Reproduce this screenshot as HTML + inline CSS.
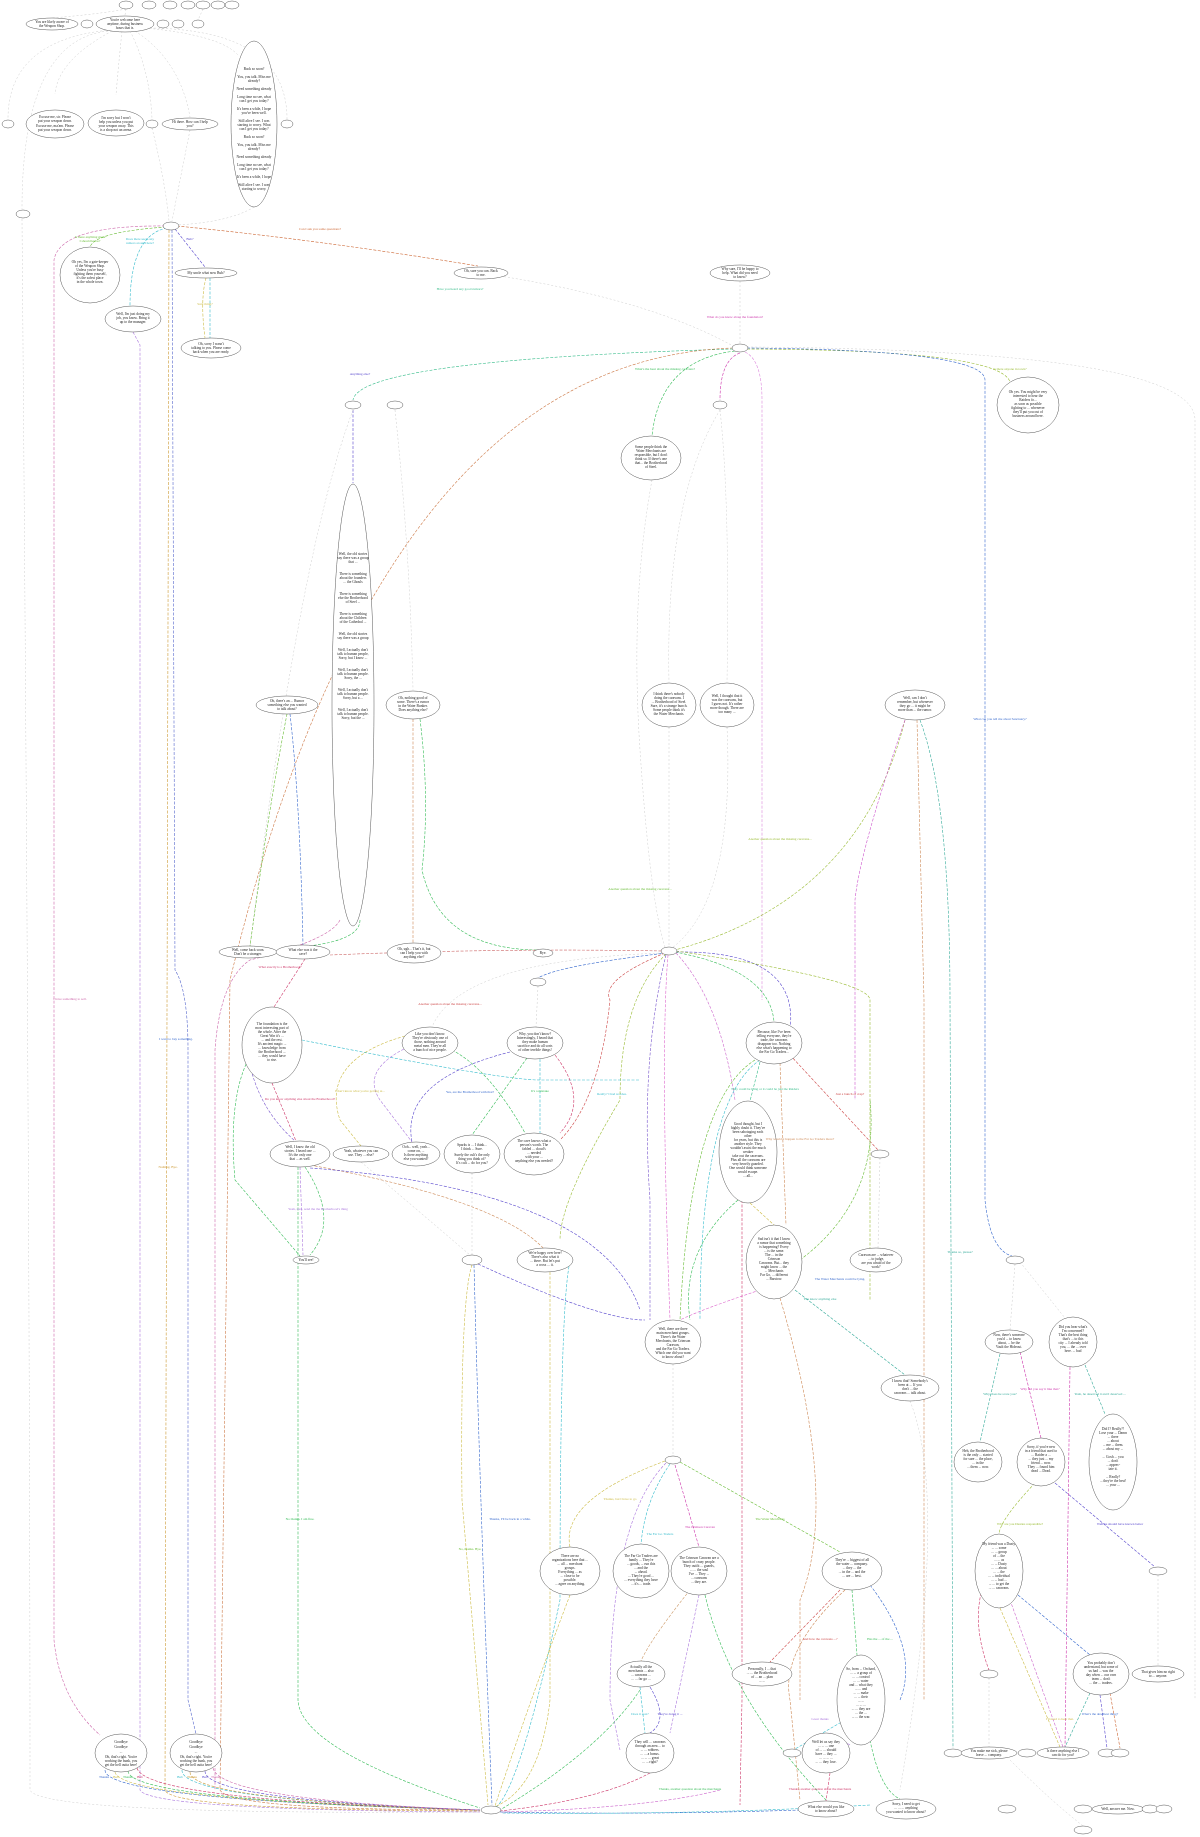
<!DOCTYPE html>
<html><head><meta charset="utf-8"><style>
html,body{margin:0;padding:0;background:#fff;}
svg{display:block}
text{font-family:"Liberation Serif",serif;font-size:3.6px;fill:#222;text-anchor:middle}
.e{fill:#fff;stroke:#555;stroke-width:0.5}
.l{fill:none;stroke-width:0.6;stroke-dasharray:3,1.5}
.g{fill:none;stroke:#ccc;stroke-width:0.5;stroke-dasharray:2,2}
.t text{font-size:3.4px}
</style></head><body>
<svg width="1200" height="1837" viewBox="0 0 1200 1837" xmlns="http://www.w3.org/2000/svg">
<g id="edges">
<!-- top -->
<path class="g" d="M126,9 Q100,14 52,18"/>
<path class="g" d="M126,9 L125,15"/>
<path class="g" d="M203,9 L198,20"/>
<path class="g" d="M110,30 Q8,40 8,119"/>
<path class="g" d="M112,31 Q58,60 55,94"/>
<path class="g" d="M122,31 Q118,70 116,95"/>
<path class="g" d="M130,31 Q150,70 152,119"/>
<path class="g" d="M135,31 Q180,60 190,117"/>
<path class="g" d="M145,28 Q220,35 238,55"/>
<path class="g" d="M150,28 Q287,30 287,119"/>
<path class="g" d="M108,31 Q22,40 22,209"/>
<path class="g" d="M254,207 Q230,222 177,225"/>
<path class="g" d="M190,130 Q180,180 172,221"/>
<path class="g" d="M152,128 Q165,180 169,221"/>
<path class="g" d="M22,219 Q30,1200 30,1790 Q40,1815 480,1812"/>
<!-- from H1 -->
<path class="l" stroke="#c6a" d="M165,226 Q60,225 54,260 L54,1640 Q60,1700 100,1735"/>
<path class="l" stroke="#6b3" d="M166,227 Q95,232 90,247"/>
<path class="l" stroke="#3bc" d="M167,228 Q130,235 130,306"/>
<path class="l" stroke="#a7d" d="M133,332 L140,345 L140,1790 Q150,1810 480,1812"/>
<path class="l" stroke="#c93" d="M169,230 L165,1790 Q170,1810 480,1811"/>
<path class="l" stroke="#56c" d="M172,230 L175,970 Q188,990 188,1050 L188,1700 L196,1734"/>
<path class="l" stroke="#54c" d="M175,229 L205,267"/>
<path class="l" stroke="#c63" d="M177,226 Q320,240 478,266"/>
<path class="l" stroke="#cb4" d="M206,278 Q200,300 205,338"/>
<path class="l" stroke="#3bc" d="M210,278 L210,338"/>
<path class="g" d="M500,276 Q650,300 733,346"/>
<path class="g" d="M740,281 L740,343"/>
<!-- H2 -->
<path class="l" stroke="#3b8" d="M733,349 Q360,360 353,400"/>
<path class="l" stroke="#c74" d="M733,348 Q380,360 230,980 L220,1790 Q230,1810 480,1810"/>
<path class="l" stroke="#3b5" d="M735,351 Q660,360 652,436"/>
<path class="l" stroke="#c3a" d="M740,353 Q720,360 720,400"/>
<path class="l" stroke="#d8d" d="M745,352 Q762,360 762,400 L762,1000"/>
<path class="l" stroke="#9b3" d="M747,349 Q1000,350 1010,382"/>
<path class="l" stroke="#36c" d="M747,348 Q985,350 985,380 L985,1200 Q990,1250 1012,1256"/>
<path class="g" d="M747,347 Q1195,350 1195,420 L1195,1700"/>
<path class="g" d="M720,410 Q665,500 669,682"/>
<path class="g" d="M720,410 Q730,500 727,682"/>
<path class="g" d="M652,480 Q630,600 640,750 Q650,900 665,947"/>
<path class="g" d="M669,727 L669,946"/>
<path class="g" d="M727,727 Q735,900 672,948"/>
<path class="l" stroke="#9b3" d="M905,720 Q860,900 675,950"/>
<path class="l" stroke="#c5c" d="M905,720 Q860,850 855,900 L855,1100"/>
<path class="l" stroke="#c85" d="M917,720 L924,1000 L924,1700"/>
<path class="l" stroke="#3a9" d="M920,720 Q950,800 950,1000 L953,1748"/>
<!-- left mid -->
<path class="l" stroke="#54c" d="M353,410 L353,483"/>
<path class="g" d="M353,410 Q300,550 250,946"/>
<path class="g" d="M395,410 Q410,550 413,690"/>
<path class="l" stroke="#6b3" d="M287,714 Q270,800 250,946"/>
<path class="l" stroke="#36c" d="M290,714 Q300,800 303,945"/>
<path class="l" stroke="#3b5" d="M360,920 Q360,940 308,946"/>
<path class="l" stroke="#c85" d="M413,719 L413,943"/>
<path class="l" stroke="#3b5" d="M420,719 Q430,800 422,870 Q440,950 540,950"/>
<path class="l" stroke="#c6a" d="M340,920 Q330,940 250,960 Q220,980 215,1050 L215,1790"/>
<path class="l" stroke="#c36" d="M305,959 L274,1007"/>
<path class="l" stroke="#c66" d="M330,955 Q500,948 664,951"/>
<path class="l" stroke="#36c" d="M675,952 Q560,965 538,978"/>
<path class="g" d="M663,953 Q460,960 432,1027"/>
<path class="g" d="M538,986 L536,1027"/>
<!-- H3 fans -->
<path class="l" stroke="#c44" d="M665,953 Q600,980 610,1000 Q600,1100 560,1140"/>
<path class="l" stroke="#d6c" d="M668,955 Q660,1050 670,1320"/>
<path class="l" stroke="#75c" d="M666,955 Q640,1060 650,1200 L650,1320"/>
<path class="l" stroke="#9b3" d="M666,954 Q620,1000 620,1100 Q560,1200 560,1240"/>
<path class="l" stroke="#3b5" d="M675,952 Q770,970 774,1022"/>
<path class="l" stroke="#54c" d="M676,952 Q800,950 790,1030"/>
<path class="l" stroke="#9b3" d="M676,951 Q870,980 870,1000 L870,1300"/>
<path class="l" stroke="#c6c" d="M676,953 Q720,1000 735,1100"/>
<!-- foundation etc -->
<path class="l" stroke="#75c" d="M250,1065 Q260,1110 295,1141"/>
<path class="l" stroke="#c36" d="M272,1083 L296,1141"/>
<path class="l" stroke="#3b5" d="M248,1060 Q228,1100 235,1180 L300,1256"/>
<path class="l" stroke="#3bc" d="M302,1040 Q500,1080 540,1080 L640,1080"/>
<path class="l" stroke="#cb4" d="M405,1036 Q320,1060 340,1120 L361,1146"/>
<path class="l" stroke="#a7d" d="M408,1047 Q360,1070 380,1100 L412,1142"/>
<path class="l" stroke="#3b5" d="M452,1050 Q490,1070 525,1133"/>
<path class="l" stroke="#54c" d="M510,1052 Q400,1080 412,1142"/>
<path class="l" stroke="#3b5" d="M527,1058 L472,1135"/>
<path class="l" stroke="#3bc" d="M540,1059 L540,1133"/>
<path class="l" stroke="#c36" d="M555,1055 Q590,1100 560,1133"/>
<path class="l" stroke="#a7d" d="M300,1167 L303,1255"/>
<path class="l" stroke="#3b5" d="M305,1167 Q340,1220 310,1255"/>
<path class="l" stroke="#3b5" d="M298,1167 L298,1700 Q300,1750 480,1808"/>
<path class="l" stroke="#c85" d="M310,1165 Q500,1200 545,1250"/>
<path class="l" stroke="#54c" d="M310,1168 Q600,1190 640,1310"/>
<path class="g" d="M361,1162 L470,1255"/>
<path class="g" d="M472,1173 L472,1255"/>
<path class="l" stroke="#cb4" d="M472,1265 Q460,1300 462,1500 L488,1805"/>
<path class="l" stroke="#36c" d="M474,1265 Q480,1500 492,1805"/>
<path class="l" stroke="#54c" d="M478,1264 Q600,1320 645,1320"/>
<path class="l" stroke="#3bc" d="M570,1262 Q560,1300 560,1600 Q520,1790 495,1808"/>
<path class="l" stroke="#cb4" d="M550,1272 L550,1700 Q540,1790 492,1808"/>
<!-- right block -->
<path class="l" stroke="#3b8" d="M760,1062 L750,1101"/>
<path class="l" stroke="#c85" d="M780,1063 L786,1225"/>
<path class="l" stroke="#c44" d="M790,1055 L878,1150"/>
<path class="l" stroke="#3bc" d="M760,1060 Q700,1100 700,1320"/>
<path class="l" stroke="#6b3" d="M755,1060 Q690,1100 680,1320"/>
<path class="l" stroke="#cb4" d="M750,1203 L774,1225"/>
<path class="l" stroke="#3b5" d="M738,1200 Q680,1250 690,1320"/>
<path class="l" stroke="#c36" d="M742,1200 L742,1700 Q740,1800 740,1805"/>
<path class="l" stroke="#d6c" d="M760,1290 Q700,1310 680,1320"/>
<path class="l" stroke="#3a9" d="M795,1290 L905,1375"/>
<path class="l" stroke="#c85" d="M780,1298 Q840,1500 800,1600 L800,1700"/>
<path class="l" stroke="#6b3" d="M800,1260 Q880,1200 870,1100"/>
<path class="g" d="M880,1158 L878,1248"/>
<path class="g" d="M910,1401 Q950,1500 900,1790"/>
<path class="g" d="M673,1364 L673,1455"/>
<path class="g" d="M1015,1264 L1010,1330"/>
<path class="g" d="M1020,1262 L1065,1318"/>
<path class="l" stroke="#3a9" d="M1000,1354 L980,1442"/>
<path class="l" stroke="#c3a" d="M1020,1352 L1041,1438"/>
<path class="l" stroke="#c3a" d="M1070,1367 L1065,1747"/>
<path class="l" stroke="#3a9" d="M1085,1365 L1105,1414"/>
<path class="l" stroke="#9b3" d="M1035,1483 Q1000,1520 999,1534"/>
<path class="l" stroke="#54c" d="M1055,1483 L1155,1567"/>
<path class="g" d="M1158,1575 L1158,1666"/>
<path class="l" stroke="#c36" d="M985,1580 Q970,1620 989,1670"/>
<path class="l" stroke="#cb4" d="M1000,1608 L1060,1747"/>
<path class="l" stroke="#c6c" d="M1010,1600 L1063,1747"/>
<path class="l" stroke="#36c" d="M1018,1595 L1090,1655"/>
<path class="l" stroke="#3a9" d="M1090,1693 L1065,1747"/>
<path class="l" stroke="#54c" d="M1100,1695 L1107,1748"/>
<path class="l" stroke="#c63" d="M1110,1693 L1120,1748"/>
<path class="g" d="M989,1678 L989,1747"/>
<path class="g" d="M1010,1760 Q1050,1800 1083,1826"/>
<!-- H4 fans -->
<path class="l" stroke="#3bc" d="M670,1464 Q645,1500 641,1544"/>
<path class="l" stroke="#c3a" d="M675,1465 L699,1547"/>
<path class="l" stroke="#6b3" d="M680,1462 L840,1552"/>
<path class="l" stroke="#a7d" d="M666,1463 Q610,1520 610,1700 L620,1750"/>
<path class="l" stroke="#cb4" d="M665,1461 Q560,1500 570,1547"/>
<path class="l" stroke="#c96" d="M690,1590 Q650,1640 641,1661"/>
<path class="l" stroke="#a7d" d="M699,1595 L670,1733"/>
<path class="l" stroke="#3b5" d="M705,1595 Q730,1700 826,1800"/>
<path class="l" stroke="#c44" d="M840,1590 L770,1662"/>
<path class="l" stroke="#3b5" d="M852,1590 L857,1655"/>
<path class="l" stroke="#36c" d="M870,1585 Q920,1650 900,1700"/>
<path class="l" stroke="#c85" d="M845,1590 Q780,1650 790,1700 L800,1800"/>
<path class="l" stroke="#3bc" d="M640,1687 L645,1733"/>
<path class="l" stroke="#54c" d="M650,1687 Q670,1720 650,1733"/>
<path class="l" stroke="#a7d" d="M850,1745 L830,1733"/>
<path class="l" stroke="#3bc" d="M845,1720 L795,1749"/>
<path class="l" stroke="#c36" d="M830,1773 L826,1801"/>
<path class="l" stroke="#3b5" d="M870,1740 Q880,1790 900,1799"/>
<path class="l" stroke="#c36" d="M650,1773 Q600,1800 500,1811"/>
<path class="l" stroke="#36c" d="M800,1810 Q650,1815 500,1812"/>
<path class="l" stroke="#3b5" d="M640,1690 Q600,1750 500,1810"/>
<path class="l" stroke="#cb4" d="M570,1595 Q530,1700 495,1806"/>
<path class="l" stroke="#c6c" d="M720,1790 Q650,1808 502,1812"/>
<path class="l" stroke="#3bc" d="M870,1805 Q700,1815 502,1813"/>
<!-- goodbyes to bottom hub -->
<path class="l" stroke="#36c" d="M105,1770 Q105,1800 480,1810"/>
<path class="l" stroke="#cb4" d="M115,1772 Q120,1800 480,1810"/>
<path class="l" stroke="#3b5" d="M128,1771 Q130,1800 480,1810"/>
<path class="l" stroke="#c36" d="M137,1768 Q145,1800 480,1810"/>
<path class="l" stroke="#3bc" d="M182,1770 Q180,1800 480,1810"/>
<path class="l" stroke="#c93" d="M190,1772 Q190,1800 480,1810"/>
<path class="l" stroke="#54c" d="M205,1771 Q205,1800 480,1810"/>
<path class="l" stroke="#c6a" d="M213,1768 Q220,1800 480,1810"/>
</g>
<g id="nodes">
<ellipse class="e" cx="126" cy="5" rx="7" ry="4"/>
<ellipse class="e" cx="149" cy="5" rx="7" ry="4"/>
<ellipse class="e" cx="170" cy="5" rx="7" ry="4"/>
<ellipse class="e" cx="188" cy="5" rx="7" ry="4"/>
<ellipse class="e" cx="203" cy="5" rx="7" ry="4"/>
<ellipse class="e" cx="218" cy="5" rx="7" ry="4"/>
<ellipse class="e" cx="232" cy="5" rx="7" ry="4"/>
<ellipse class="e" cx="52" cy="24" rx="26" ry="6"/><text x="52" y="23">You are likely aware of</text><text x="52" y="27">the Weapon Shop.</text>
<ellipse class="e" cx="87" cy="24" rx="6" ry="4"/>
<ellipse class="e" cx="125" cy="24" rx="29" ry="8"/><text x="125" y="21">You're welcome here</text><text x="125" y="25">anytime, during business</text><text x="125" y="29">hours that is.</text>
<ellipse class="e" cx="163" cy="24" rx="6" ry="4"/>
<ellipse class="e" cx="178" cy="24" rx="6" ry="4"/>
<ellipse class="e" cx="198" cy="24" rx="6" ry="4"/>
<ellipse class="e" cx="8" cy="124" rx="6" ry="4"/>
<ellipse class="e" cx="55" cy="124" rx="29" ry="14"/><text x="55" y="118">Excuse me, sir. Please</text><text x="55" y="122">put your weapon down.</text><text x="55" y="127">Excuse me, ma'am. Please</text><text x="55" y="131">put your weapon down.</text>
<ellipse class="e" cx="116" cy="123" rx="28" ry="13"/><text x="116" y="119">I'm sorry but I won't</text><text x="116" y="123">help you unless you put</text><text x="116" y="127">your weapon away. This</text><text x="116" y="131">is a shop not an arena.</text>
<ellipse class="e" cx="152" cy="124" rx="6" ry="4"/>
<ellipse class="e" cx="190" cy="124" rx="28" ry="6"/><text x="190" y="123">Hi there. How can I help</text><text x="190" y="127">you?</text>
<ellipse class="e" cx="254" cy="124" rx="23" ry="83"/>
<text x="254" y="70">Back so soon?</text><text x="254" y="78">You, you talk. Miss me</text><text x="254" y="82">already?</text><text x="254" y="90">Need something already</text><text x="254" y="98">Long time no see, what</text><text x="254" y="102">can I get you today?</text><text x="254" y="110">It's been a while, I hope</text><text x="254" y="114">you've been well.</text><text x="254" y="122">Still alive I see. I was</text><text x="254" y="126">starting to worry. What</text><text x="254" y="130">can I get you today?</text><text x="254" y="138">Back so soon?</text><text x="254" y="146">You, you talk. Miss me</text><text x="254" y="150">already?</text><text x="254" y="158">Need something already</text><text x="254" y="166">Long time no see, what</text><text x="254" y="170">can I get you today?</text><text x="254" y="178">It's been a while, I hope</text><text x="254" y="186">Still alive I see. I was</text><text x="254" y="190">starting to worry.</text>
<ellipse class="e" cx="287" cy="124" rx="6" ry="4"/>
<ellipse class="e" cx="23" cy="214" rx="7" ry="4"/>
<ellipse class="e" cx="171" cy="226" rx="8" ry="4"/>
<ellipse class="e" cx="90" cy="275" rx="30" ry="28"/><text x="90" y="263">Oh yes, I'm a gate-keeper</text><text x="90" y="267">of the Weapon Shop.</text><text x="90" y="271">Unless you're busy</text><text x="90" y="275">fighting them yourself,</text><text x="90" y="279">it's the safest place</text><text x="90" y="283">in the whole town.</text>
<ellipse class="e" cx="133" cy="319" rx="28" ry="13"/><text x="133" y="315">Well, I'm just doing my</text><text x="133" y="319">job, you know. Bring it</text><text x="133" y="323">up to the manager.</text>
<ellipse class="e" cx="206" cy="273" rx="31" ry="5"/><text x="206" y="274">My uncle what now Bub?</text>
<ellipse class="e" cx="211" cy="348" rx="30" ry="10"/><text x="211" y="345">Oh, sorry I wasn't</text><text x="211" y="349">talking to you. Please come</text><text x="211" y="353">back when you are ready.</text>
<ellipse class="e" cx="481" cy="273" rx="27" ry="6"/><text x="481" y="272">Oh, sure you can. Back</text><text x="481" y="276">to me.</text>
<ellipse class="e" cx="740" cy="273" rx="30" ry="8"/><text x="740" y="270">Why sure, I'll be happy to</text><text x="740" y="274">help. What did you need</text><text x="740" y="278">to know?</text>
<ellipse class="e" cx="740" cy="348" rx="8" ry="4"/>
<ellipse class="e" cx="353" cy="405" rx="8" ry="4"/>
<ellipse class="e" cx="395" cy="405" rx="8" ry="4"/>
<ellipse class="e" cx="720" cy="405" rx="7" ry="4"/>
<ellipse class="e" cx="651" cy="458" rx="30" ry="22"/><text x="651" y="448">Some people think the</text><text x="651" y="452">Water Merchants are</text><text x="651" y="456">responsible, but I don't</text><text x="651" y="460">think so. If there's one</text><text x="651" y="464">that... the Brotherhood</text><text x="651" y="468">of Steel.</text>
<ellipse class="e" cx="1028" cy="405" rx="31" ry="28"/><text x="1028" y="393">Oh yes. You might be very</text><text x="1028" y="397">interested to hear the</text><text x="1028" y="401">Raiders fo...</text><text x="1028" y="405">as soon as possible</text><text x="1028" y="409">fighting to ... whenever</text><text x="1028" y="413">they'll put you out of</text><text x="1028" y="417">business around here.</text>
<ellipse class="e" cx="353" cy="705" rx="21" ry="221"/>
<text x="353" y="555">Well, the old stories</text><text x="353" y="559">say there was a group</text><text x="353" y="563">that ...</text><text x="353" y="575">There is something</text><text x="353" y="579">about the founders</text><text x="353" y="583">... the Ghouls</text><text x="353" y="595">There is something</text><text x="353" y="599">else the Brotherhood</text><text x="353" y="603">of Steel ...</text><text x="353" y="615">There is something</text><text x="353" y="619">about the Children</text><text x="353" y="623">of the Cathedral ...</text><text x="353" y="635">Well, the old stories</text><text x="353" y="639">say there was a group</text><text x="353" y="651">Well, I actually don't</text><text x="353" y="655">talk to human people,</text><text x="353" y="659">Sorry, but I know ...</text><text x="353" y="671">Well, I actually don't</text><text x="353" y="675">talk to human people.</text><text x="353" y="679">Sorry, the ...</text><text x="353" y="691">Well, I actually don't</text><text x="353" y="695">talk to human people.</text><text x="353" y="699">Sorry, but a ...</text><text x="353" y="711">Well, I actually don't</text><text x="353" y="715">talk to human people.</text><text x="353" y="719">Sorry, but the ...</text>
<ellipse class="e" cx="287" cy="705" rx="31" ry="9"/><text x="287" y="702">Oh, there's an ... Rumor</text><text x="287" y="706">something else you wanted</text><text x="287" y="710">to talk about?</text>
<ellipse class="e" cx="413" cy="705" rx="27" ry="14"/><text x="413" y="699">Oh, nothing good of</text><text x="413" y="703">some. There's a rumor</text><text x="413" y="707">in the Water Bunker.</text><text x="413" y="711">Does anything else?</text>
<ellipse class="e" cx="669" cy="705" rx="27" ry="22"/><text x="669" y="695">I think there's nobody</text><text x="669" y="699">doing the caravans. I</text><text x="669" y="703">... Brotherhood of Steel.</text><text x="669" y="707">Sure, it's a strange bunch.</text><text x="669" y="711">Some people think it's</text><text x="669" y="715">the Water Merchants.</text>
<ellipse class="e" cx="727" cy="705" rx="27" ry="22"/><text x="727" y="697">Well, I thought that it</text><text x="727" y="701">was the caravans, but</text><text x="727" y="705">I guess not. It's rather</text><text x="727" y="709">more though. There are</text><text x="727" y="713">too many ...</text>
<ellipse class="e" cx="915" cy="705" rx="30" ry="15"/><text x="915" y="699">Well, can I don't</text><text x="915" y="703">remember, but whenever</text><text x="915" y="707">they go ... it might be</text><text x="915" y="711">more than ... the rumor.</text>
<ellipse class="e" cx="248" cy="952" rx="29" ry="6"/><text x="248" y="951">Well, come back soon.</text><text x="248" y="955">Don't be a stranger.</text>
<ellipse class="e" cx="303" cy="952" rx="27" ry="7"/><text x="303" y="951">What else was it the</text><text x="303" y="955">cave?</text>
<ellipse class="e" cx="414" cy="953" rx="27" ry="10"/><text x="414" y="950">Oh, ugh... That's it, but</text><text x="414" y="954">can I help you with</text><text x="414" y="958">anything else?</text>
<ellipse class="e" cx="543" cy="953" rx="10" ry="4"/><text x="543" y="954">Bye.</text>
<ellipse class="e" cx="669" cy="951" rx="8" ry="4"/>
<ellipse class="e" cx="538" cy="982" rx="8" ry="4"/>
<ellipse class="e" cx="272" cy="1045" rx="30" ry="38"/><text x="272" y="1025">The foundation is the</text><text x="272" y="1029">most interesting part of</text><text x="272" y="1033">the whole. After the</text><text x="272" y="1037">Great War it's ...</text><text x="272" y="1041">... and the rest.</text><text x="272" y="1045">It's ancient magic ...</text><text x="272" y="1049">... knowledge from</text><text x="272" y="1053">the Brotherhood ...</text><text x="272" y="1057">... they would have</text><text x="272" y="1061">to rise.</text>
<ellipse class="e" cx="430" cy="1043" rx="28" ry="16"/><text x="430" y="1035">Like you don't know.</text><text x="430" y="1039">They're obviously one of</text><text x="430" y="1043">those, nothing around</text><text x="430" y="1047">metal men. They're all</text><text x="430" y="1051">a bunch of nice people.</text>
<ellipse class="e" cx="535" cy="1043" rx="28" ry="16"/><text x="535" y="1035">Why, you don't know?</text><text x="535" y="1039">Interestingly, I heard that</text><text x="535" y="1043">they make human</text><text x="535" y="1047">sacrifice and do all sorts</text><text x="535" y="1051">of other terrible things!</text>
<ellipse class="e" cx="774" cy="1043" rx="28" ry="21"/><text x="774" y="1033">Because, like I've been</text><text x="774" y="1037">telling everyone, they're</text><text x="774" y="1041">trade, the caravans</text><text x="774" y="1045">disappear too. Nothing</text><text x="774" y="1049">else what's happening to</text><text x="774" y="1053">the Far Go Traders...</text>
<ellipse class="e" cx="300" cy="1154" rx="30" ry="13"/><text x="300" y="1148">Well, I know the old</text><text x="300" y="1152">stories. I heard one ...</text><text x="300" y="1156">It's the only one</text><text x="300" y="1160">that ... as well.</text>
<ellipse class="e" cx="361" cy="1154" rx="28" ry="8"/><text x="361" y="1152">Yeah, whatever you can</text><text x="361" y="1156">use. They ... else?</text>
<ellipse class="e" cx="416" cy="1154" rx="24" ry="12"/><text x="416" y="1148">Ooh... well, yeah...</text><text x="416" y="1152">come on, ...</text><text x="416" y="1156">Is there anything</text><text x="416" y="1160">else you wanted?</text>
<ellipse class="e" cx="472" cy="1154" rx="28" ry="19"/><text x="472" y="1146">Sparks is ... I think...</text><text x="472" y="1150">I think ... Sure.</text><text x="472" y="1156">Surely the cult's the only</text><text x="472" y="1160">thing you think of?</text><text x="472" y="1164">It's cult ... do for you?</text>
<ellipse class="e" cx="534" cy="1154" rx="30" ry="21"/><text x="534" y="1142">The cave knows what a</text><text x="534" y="1146">person's worth. The</text><text x="534" y="1150">fabled ... cloud's</text><text x="534" y="1154">... needed</text><text x="534" y="1158">with your ...</text><text x="534" y="1162">anything else you needed?</text>
<ellipse class="e" cx="306" cy="1260" rx="13" ry="4"/><text x="306" y="1261">You'll see!</text>
<ellipse class="e" cx="472" cy="1260" rx="10" ry="5"/>
<ellipse class="e" cx="545" cy="1260" rx="28" ry="12"/><text x="545" y="1254">We're happy over here!</text><text x="545" y="1258">There's also what it</text><text x="545" y="1262">... there. But let's put</text><text x="545" y="1266">a cross ... it.</text>
<ellipse class="e" cx="748" cy="1152" rx="29" ry="51"/><text x="748" y="1125">Good thought, but I</text><text x="748" y="1129">highly doubt it. They've</text><text x="748" y="1133">been sabotaging each</text><text x="748" y="1137">other</text><text x="748" y="1141">for years, but this is</text><text x="748" y="1145">another style. They</text><text x="748" y="1149">wouldn't assist the much</text><text x="748" y="1153">weaker</text><text x="748" y="1157">take out the caravans.</text><text x="748" y="1161">Plus all the caravans are</text><text x="748" y="1165">very heavily guarded.</text><text x="748" y="1169">One would think someone</text><text x="748" y="1173">would escape.</text><text x="748" y="1177">... all...</text>
<ellipse class="e" cx="880" cy="1154" rx="9" ry="4"/>
<ellipse class="e" cx="774" cy="1262" rx="28" ry="37"/><text x="774" y="1240">Sad isn't it that I know</text><text x="774" y="1244">a rumor that something</text><text x="774" y="1248">is happening? Every</text><text x="774" y="1252">... is the same.</text><text x="774" y="1256">The ... in the</text><text x="774" y="1260">Crimson</text><text x="774" y="1264">Caravans. But... they</text><text x="774" y="1268">might know ... the</text><text x="774" y="1272">... Merchants</text><text x="774" y="1276">Far Go, ... different</text><text x="774" y="1280">... Barstow.</text>
<ellipse class="e" cx="876" cy="1260" rx="26" ry="12"/><text x="876" y="1256">Caravan are ... whatever</text><text x="876" y="1260">... to judge,</text><text x="876" y="1264">are you afraid of the</text><text x="876" y="1268">work?</text>
<ellipse class="e" cx="1015" cy="1260" rx="9" ry="4"/>
<ellipse class="e" cx="673" cy="1342" rx="28" ry="22"/><text x="673" y="1330">Well, there are three</text><text x="673" y="1334">main merchant groups.</text><text x="673" y="1338">There's the Water</text><text x="673" y="1342">Merchants, the Crimson</text><text x="673" y="1346">Caravan,</text><text x="673" y="1350">and the Far Go Traders.</text><text x="673" y="1354">Which one did you want</text><text x="673" y="1358">to know about?</text>
<ellipse class="e" cx="910" cy="1388" rx="29" ry="13"/><text x="910" y="1382">I know that! Somebody's</text><text x="910" y="1386">been at ... If you</text><text x="910" y="1390">don't ... the</text><text x="910" y="1394">caravans ... talk about.</text>
<ellipse class="e" cx="1009" cy="1342" rx="24" ry="12"/><text x="1009" y="1336">Now, there's someone</text><text x="1009" y="1340">you'd ... to know</text><text x="1009" y="1344">about, ... be the</text><text x="1009" y="1348">Vault the Hideout.</text>
<ellipse class="e" cx="1073" cy="1342" rx="24" ry="25"/><text x="1073" y="1328">Did you hear what's</text><text x="1073" y="1332">I'm concerned?</text><text x="1073" y="1336">That's the best thing</text><text x="1073" y="1340">that's ... to this</text><text x="1073" y="1344">city ... I already told</text><text x="1073" y="1348">you, ... the ... over</text><text x="1073" y="1352">here. ... bad</text>
<ellipse class="e" cx="673" cy="1460" rx="8" ry="4"/>
<ellipse class="e" cx="978" cy="1462" rx="24" ry="20"/><text x="978" y="1452">Heh, the Brotherhood</text><text x="978" y="1456">is the only ... started</text><text x="978" y="1460">for sure ... the place,</text><text x="978" y="1464">... in the</text><text x="978" y="1468">... them ... now.</text>
<ellipse class="e" cx="1041" cy="1462" rx="24" ry="24"/><text x="1041" y="1448">Sorry, if you're new</text><text x="1041" y="1452">in a friend that used to</text><text x="1041" y="1456">... Raider a ...</text><text x="1041" y="1460">... they just ... my</text><text x="1041" y="1464">friend ... now.</text><text x="1041" y="1468">They ... found him</text><text x="1041" y="1472">dead ... Dead.</text>
<ellipse class="e" cx="1113" cy="1462" rx="24" ry="48"/><text x="1113" y="1430">Did I? Really?!</text><text x="1113" y="1434">Lose your ... Damn</text><text x="1113" y="1438">... there</text><text x="1113" y="1442">... about</text><text x="1113" y="1446">... me ... them.</text><text x="1113" y="1450">... about my ... </text><text x="1113" y="1458">... Gosh ... you</text><text x="1113" y="1462">... don't</text><text x="1113" y="1466">... apprec-</text><text x="1113" y="1470">iate it.</text><text x="1113" y="1478">... Really?</text><text x="1113" y="1482">... they're the best!</text><text x="1113" y="1486">... your ...</text>
<ellipse class="e" cx="641" cy="1571" rx="28" ry="27"/><text x="641" y="1557">The Far Go Traders are</text><text x="641" y="1561">family ... They're</text><text x="641" y="1565">... goods, ... run this</text><text x="641" y="1569">... and the</text><text x="641" y="1573">... ahead.</text><text x="641" y="1577">... They're good ...</text><text x="641" y="1581">... everything they have</text><text x="641" y="1585">... it's ... trade.</text>
<ellipse class="e" cx="699" cy="1571" rx="28" ry="24"/><text x="699" y="1559">The Crimson Caravan are a</text><text x="699" y="1563">bunch of crazy people.</text><text x="699" y="1567">They outfit ... guards,</text><text x="699" y="1571">... ... the soul</text><text x="699" y="1575">I've ... They ...</text><text x="699" y="1579">... caravans</text><text x="699" y="1583">... they are.</text>
<ellipse class="e" cx="852" cy="1571" rx="30" ry="19"/><text x="852" y="1561">They're ... biggest of all</text><text x="852" y="1565">the water ... company.</text><text x="852" y="1569">... they ... the</text><text x="852" y="1573">... in the ... and the</text><text x="852" y="1577">... are ... best.</text>
<ellipse class="e" cx="999" cy="1571" rx="24" ry="37"/><text x="999" y="1545">My friend was a Dusty.</text><text x="999" y="1549">... ... some</text><text x="999" y="1553">... ... group</text><text x="999" y="1557">of ... the</text><text x="999" y="1561">... ... as</text><text x="999" y="1565">... ... Dusty</text><text x="999" y="1569">... ... about</text><text x="999" y="1573">... ... the</text><text x="999" y="1577">... ... individual</text><text x="999" y="1581">... ... had ...</text><text x="999" y="1585">... ... to get the</text><text x="999" y="1589">... ... caravans.</text>
<ellipse class="e" cx="1158" cy="1571" rx="9" ry="4"/>
<ellipse class="e" cx="570" cy="1571" rx="30" ry="24"/><text x="570" y="1557">There are no</text><text x="570" y="1561">organizations here that ...</text><text x="570" y="1565">... all ... merchant</text><text x="570" y="1569">groups.</text><text x="570" y="1573">Everything ... as</text><text x="570" y="1577">... close to be</text><text x="570" y="1581">possible.</text><text x="570" y="1585">... agree on anything.</text>
<ellipse class="e" cx="641" cy="1674" rx="24" ry="13"/><text x="641" y="1668">Actually all the</text><text x="641" y="1672">merchants ... also</text><text x="641" y="1676">... caravans ...</text><text x="641" y="1680">... ... far go ...</text>
<ellipse class="e" cx="762" cy="1674" rx="30" ry="12"/><text x="762" y="1670">Personally, I ... that</text><text x="762" y="1674">... ... the Brotherhood</text><text x="762" y="1678">of ... an ... plan</text><text x="762" y="1682">... ...</text>
<ellipse class="e" cx="861" cy="1700" rx="24" ry="45"/><text x="861" y="1670">So, from ... Orchard,</text><text x="861" y="1674">... ... a group of</text><text x="861" y="1678">... ... control</text><text x="861" y="1682">... ... water</text><text x="861" y="1686">and ... what they</text><text x="861" y="1690">... ... and</text><text x="861" y="1694">... ... make</text><text x="861" y="1698">... ... their</text><text x="861" y="1702">... ...</text><text x="861" y="1706">... ... ...</text><text x="861" y="1710">... ... they are</text><text x="861" y="1714">... the ...</text><text x="861" y="1718">... ... the war.</text>
<ellipse class="e" cx="989" cy="1674" rx="9" ry="4"/>
<ellipse class="e" cx="1101" cy="1674" rx="28" ry="21"/><text x="1101" y="1664">You probably don't</text><text x="1101" y="1668">understand, but some of</text><text x="1101" y="1672">us had ... was the</text><text x="1101" y="1676">day when ... our own</text><text x="1101" y="1680">team ... don't</text><text x="1101" y="1684">... the ... traders.</text>
<ellipse class="e" cx="1158" cy="1674" rx="26" ry="8"/><text x="1158" y="1673">That gives him no right</text><text x="1158" y="1677">to ... anyone.</text>
<ellipse class="e" cx="650" cy="1753" rx="24" ry="20"/><text x="650" y="1743">They will ... caravans</text><text x="650" y="1747">through an area ... to</text><text x="650" y="1751">... ... robbers.</text><text x="650" y="1755">... ... a bonus.</text><text x="650" y="1759">... ... ... great</text><text x="650" y="1763">... ... right?</text>
<ellipse class="e" cx="826" cy="1753" rx="24" ry="20"/><text x="826" y="1743">Well let us say they</text><text x="826" y="1747">... ... ... one</text><text x="826" y="1751">of ... ... should</text><text x="826" y="1755">have ... they ...</text><text x="826" y="1759">... ... ... ...</text><text x="826" y="1763">... ... they lose.</text>
<ellipse class="e" cx="792" cy="1753" rx="9" ry="4"/>
<ellipse class="e" cx="953" cy="1753" rx="9" ry="4"/>
<ellipse class="e" cx="989" cy="1753" rx="28" ry="6"/><text x="989" y="1752">You make me sick, please</text><text x="989" y="1756">leave ... company.</text>
<ellipse class="e" cx="1027" cy="1753" rx="9" ry="4"/>
<ellipse class="e" cx="1063" cy="1753" rx="26" ry="6"/><text x="1063" y="1752">Is there anything else I</text><text x="1063" y="1756">can do for you?</text>
<ellipse class="e" cx="1107" cy="1753" rx="9" ry="4"/>
<ellipse class="e" cx="1120" cy="1753" rx="9" ry="4"/>
<ellipse class="e" cx="826" cy="1809" rx="28" ry="8"/><text x="826" y="1808">What else would you like</text><text x="826" y="1812">to know about?</text>
<ellipse class="e" cx="906" cy="1809" rx="30" ry="10"/><text x="906" y="1805">Sorry, I need to get</text><text x="906" y="1809">... ... ... anything</text><text x="906" y="1813">you wanted to know about?</text>
<ellipse class="e" cx="1007" cy="1809" rx="9" ry="4"/>
<ellipse class="e" cx="1083" cy="1809" rx="9" ry="4"/>
<ellipse class="e" cx="1118" cy="1809" rx="26" ry="5"/><text x="1118" y="1810">Well, answer me. Now.</text>
<ellipse class="e" cx="1150" cy="1809" rx="8" ry="4"/>
<ellipse class="e" cx="1164" cy="1809" rx="8" ry="4"/>
<ellipse class="e" cx="1083" cy="1830" rx="9" ry="4"/>
<ellipse class="e" cx="121" cy="1753" rx="26" ry="19"/><text x="121" y="1743">Goodbye</text><text x="121" y="1748">Goodbye</text><text x="121" y="1753">...</text><text x="121" y="1758">Oh, that's right. You're</text><text x="121" y="1762">working the bunk, you</text><text x="121" y="1766">get the hell outta here!</text>
<ellipse class="e" cx="196" cy="1753" rx="26" ry="19"/><text x="196" y="1743">Goodbye</text><text x="196" y="1748">Goodbye</text><text x="196" y="1753">...</text><text x="196" y="1758">Oh, that's right. You're</text><text x="196" y="1762">working the bunk, you</text><text x="196" y="1766">get the hell outta here!</text>
<ellipse class="e" cx="491" cy="1810" rx="10" ry="4"/>
</g>
<g class="t">
<text x="90" y="238" style="fill:#6b3">Is there anything more</text><text x="90" y="242" style="fill:#6b3">I should know?</text>
<text x="140" y="240" style="fill:#3bc">Does there seem any</text><text x="140" y="244" style="fill:#3bc">rumors around here?</text>
<text x="190" y="240" style="fill:#54c">Bub?</text>
<text x="320" y="230" style="fill:#c63">Can I ask you some questions?</text>
<text x="205" y="305" style="fill:#cb4">Sure thing?</text>
<text x="460" y="290" style="fill:#3b8">Have you heard any good rumors?</text>
<text x="360" y="375" style="fill:#54c">Anything else?</text>
<text x="665" y="370" style="fill:#3b5">What's the hear about the missing caravans?</text>
<text x="735" y="318" style="fill:#c3a">What do you know about the foundation?</text>
<text x="1010" y="370" style="fill:#9b3">Is there anyone in town?</text>
<text x="1000" y="720" style="fill:#36c">What can you tell me about Sanctuary?</text>
<text x="780" y="840" style="fill:#9b3">Another question about the missing caravans...</text>
<text x="640" y="890" style="fill:#6b3">Another question about the missing caravans...</text>
<text x="70" y="1000" style="fill:#c6a">I have something to sell.</text>
<text x="176" y="1040" style="fill:#36c">I want to buy something.</text>
<text x="168" y="1168" style="fill:#c93">Nothing. Bye.</text>
<text x="280" y="968" style="fill:#c36">What exactly is a Brotherhood?</text>
<text x="450" y="1005" style="fill:#c44">Another question about the missing caravans...</text>
<text x="300" y="1100" style="fill:#c36">Do you know anything else about the Brotherhood?</text>
<text x="360" y="1092" style="fill:#cb4">I don't know what you're getting at...</text>
<text x="470" y="1093" style="fill:#36c">Yes, are the Brotherhood with that?</text>
<text x="540" y="1092" style="fill:#3b5">It's a mistake</text>
<text x="612" y="1095" style="fill:#3bc">Really? I had no idea.</text>
<text x="318" y="1210" style="fill:#a7d">Yeah, sure, send the the Brotherhood's thing</text>
<text x="300" y="1520" style="fill:#3b5">No thanks. I am fine.</text>
<text x="470" y="1550" style="fill:#6b3">No, thanks. Bye.</text>
<text x="510" y="1520" style="fill:#36c">Thanks, I'll be back in a while.</text>
<text x="765" y="1090" style="fill:#3b8">They could be lying or it could be just the Raiders</text>
<text x="800" y="1140" style="fill:#c85">Why would it happen to the Far Go Traders more?</text>
<text x="850" y="1095" style="fill:#c44">Just a bunch of crap?</text>
<text x="840" y="1280" style="fill:#36c">The Water Merchants could be lying.</text>
<text x="820" y="1300" style="fill:#3a9">You know anything else</text>
<text x="960" y="1253" style="fill:#3a9">Thanks so, please?</text>
<text x="1000" y="1395" style="fill:#3a9">Why, does he scare you?</text>
<text x="1040" y="1390" style="fill:#c3a">Why did you say it like that?</text>
<text x="1100" y="1395" style="fill:#3a9">Yeah, he deserved it and I deserved ...</text>
<text x="1020" y="1525" style="fill:#9b3">Why are you Dusties responsible?</text>
<text x="1120" y="1525" style="fill:#54c">Well he should have known better</text>
<text x="660" y="1535" style="fill:#3bc">The Far Go Traders</text>
<text x="700" y="1528" style="fill:#c3a">The Crimson Caravan</text>
<text x="770" y="1520" style="fill:#6b3">The Water Merchants</text>
<text x="620" y="1500" style="fill:#cb4">Thanks, but I have to go</text>
<text x="820" y="1640" style="fill:#c44">And how the caravans ...?</text>
<text x="880" y="1640" style="fill:#3b5">Has the ... of the ...</text>
<text x="640" y="1715" style="fill:#3bc">Does it cost?</text>
<text x="670" y="1715" style="fill:#54c">They're doing it ...</text>
<text x="820" y="1720" style="fill:#a7d">Great thanks</text>
<text x="820" y="1790" style="fill:#c36">Thanks, another question about the merchants</text>
<text x="690" y="1790" style="fill:#3b5">Thanks, another question about the merchants</text>
<text x="1060" y="1720" style="fill:#cb4">I'll need to hear that.</text>
<text x="1100" y="1715" style="fill:#36c">What's the deadliest thing?</text>
<text x="104" y="1778" style="fill:#36c">Thanks</text><text x="116" y="1778" style="fill:#cb4">Bub</text><text x="128" y="1778" style="fill:#3b5">Thanks</text><text x="140" y="1778" style="fill:#c36">Bub</text>
<text x="180" y="1778" style="fill:#3bc">Bub</text><text x="192" y="1778" style="fill:#c93">Thanks</text><text x="205" y="1778" style="fill:#54c">Bub</text><text x="216" y="1778" style="fill:#c6a">Thanks</text>
</g>
</svg>
</body></html>
